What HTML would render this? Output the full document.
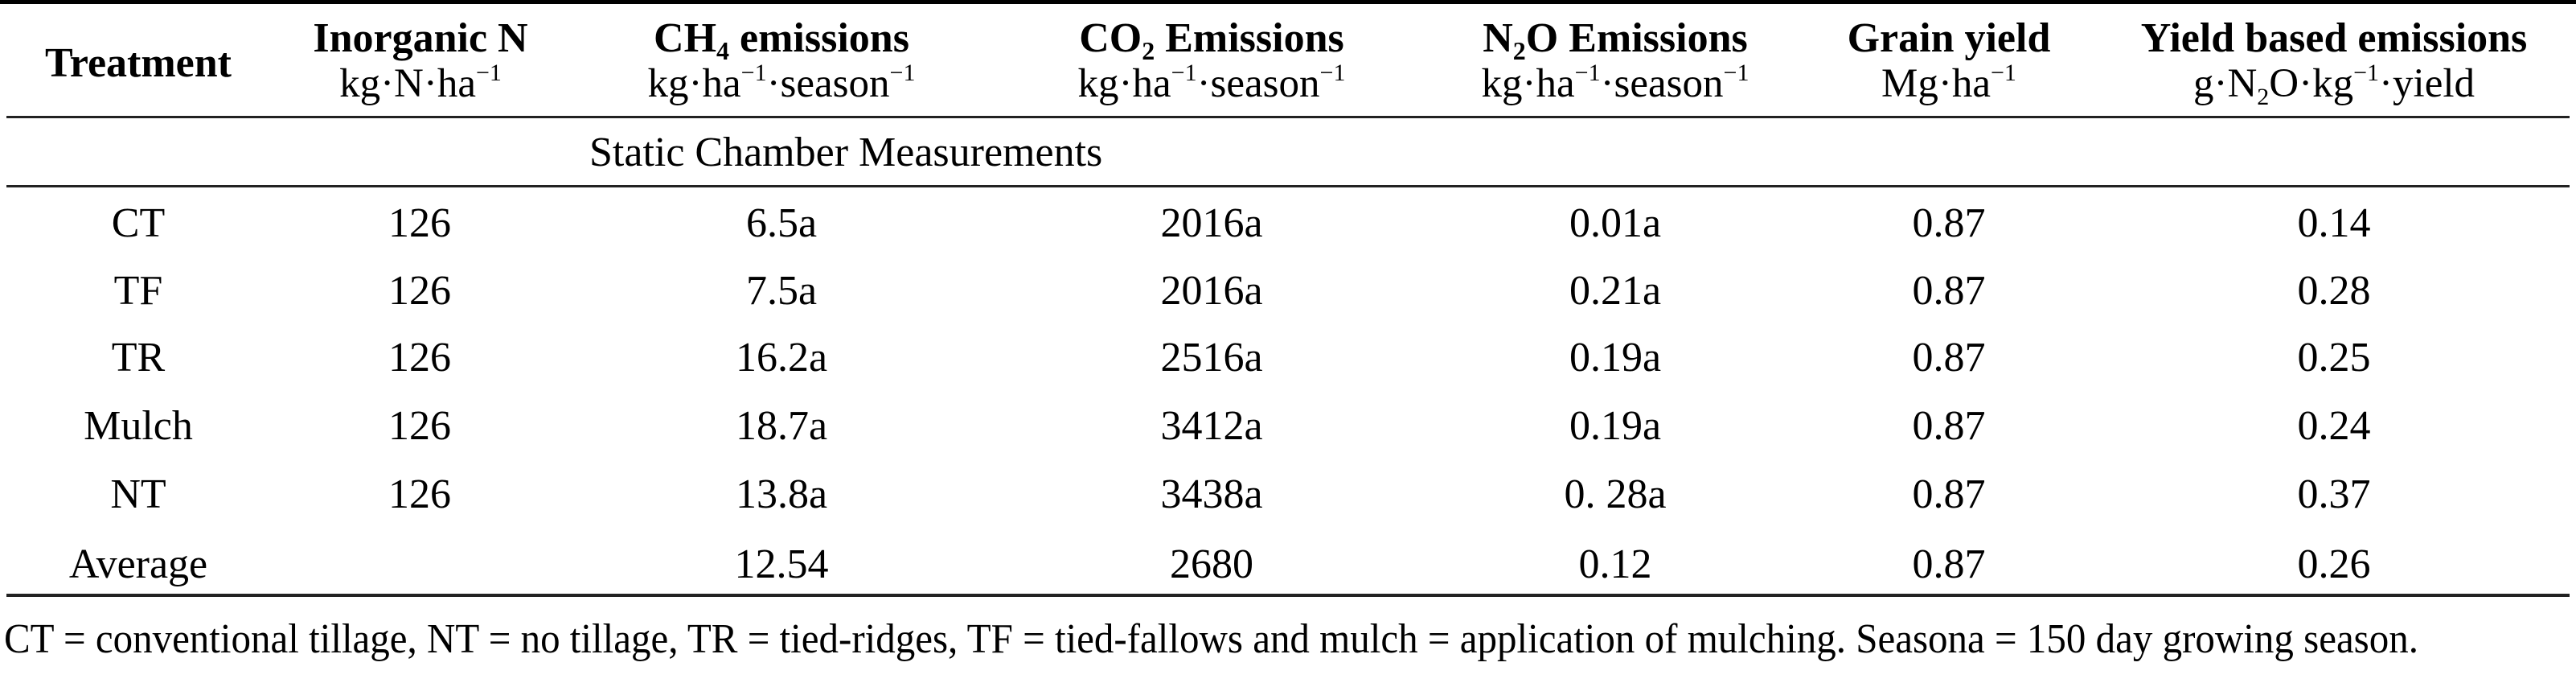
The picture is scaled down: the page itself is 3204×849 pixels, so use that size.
<!DOCTYPE html>
<html><head><meta charset="utf-8"><style>
html,body{margin:0;padding:0;background:#fff;width:3204px;height:849px;overflow:hidden}
text{font-family:"Liberation Serif","DejaVu Serif",serif;fill:#000}
.h{font-weight:bold;font-size:52px}
.u{font-size:51px}
.v{font-size:52px}
</style></head><body>
<svg width="3204" height="849" xmlns="http://www.w3.org/2000/svg">
<rect x="0" y="0" width="3204" height="5" fill="#000"/>
<rect x="8" y="144" width="3188" height="3" fill="#222"/>
<rect x="8" y="230" width="3188" height="3" fill="#222"/>
<rect x="8" y="738" width="3188" height="4" fill="#222"/>

<g text-anchor="middle">
<text class="h" x="172" y="95">Treatment</text>
<text class="h" x="523" y="64">Inorganic N</text>
<text class="u" x="523" y="120">kg·N·ha<tspan font-size="30" dy="-20">−1</tspan></text>
<text class="h" x="972" y="64">CH<tspan font-size="32" dy="10">4</tspan><tspan dy="-10"> emissions</tspan></text>
<text class="u" x="972" y="120">kg·ha<tspan font-size="30" dy="-20">−1</tspan><tspan dy="20">·season</tspan><tspan font-size="30" dy="-20">−1</tspan></text>
<text class="h" x="1507" y="64">CO<tspan font-size="32" dy="10">2</tspan><tspan dy="-10"> Emissions</tspan></text>
<text class="u" x="1507" y="120">kg·ha<tspan font-size="30" dy="-20">−1</tspan><tspan dy="20">·season</tspan><tspan font-size="30" dy="-20">−1</tspan></text>
<text class="h" x="2009" y="64">N<tspan font-size="32" dy="10">2</tspan><tspan dy="-10">O Emissions</tspan></text>
<text class="u" x="2009" y="120">kg·ha<tspan font-size="30" dy="-20">−1</tspan><tspan dy="20">·season</tspan><tspan font-size="30" dy="-20">−1</tspan></text>
<text class="h" x="2424" y="64">Grain yield</text>
<text class="u" x="2424" y="120">Mg·ha<tspan font-size="30" dy="-20">−1</tspan></text>
<text class="h" x="2903" y="64">Yield based emissions</text>
<text class="u" x="2903" y="120">g·N<tspan font-size="30" dy="10">2</tspan><tspan dy="-10">O·kg</tspan><tspan font-size="30" dy="-20">−1</tspan><tspan dy="20">·yield</tspan></text>
</g>

<text class="v" x="733" y="206">Static Chamber Measurements</text>

<g class="v" text-anchor="middle">
<text x="172" y="294">CT</text><text x="522" y="294">126</text><text x="972" y="294">6.5a</text><text x="1507" y="294">2016a</text><text x="2009" y="294">0.01a</text><text x="2424" y="294">0.87</text><text x="2903" y="294">0.14</text>
<text x="172" y="378">TF</text><text x="522" y="378">126</text><text x="972" y="378">7.5a</text><text x="1507" y="378">2016a</text><text x="2009" y="378">0.21a</text><text x="2424" y="378">0.87</text><text x="2903" y="378">0.28</text>
<text x="172" y="461">TR</text><text x="522" y="461">126</text><text x="972" y="461">16.2a</text><text x="1507" y="461">2516a</text><text x="2009" y="461">0.19a</text><text x="2424" y="461">0.87</text><text x="2903" y="461">0.25</text>
<text x="172" y="546">Mulch</text><text x="522" y="546">126</text><text x="972" y="546">18.7a</text><text x="1507" y="546">3412a</text><text x="2009" y="546">0.19a</text><text x="2424" y="546">0.87</text><text x="2903" y="546">0.24</text>
<text x="172" y="631">NT</text><text x="522" y="631">126</text><text x="972" y="631">13.8a</text><text x="1507" y="631">3438a</text><text x="2009" y="631">0. 28a</text><text x="2424" y="631">0.87</text><text x="2903" y="631">0.37</text>
<text x="172" y="718">Average</text><text x="972" y="718">12.54</text><text x="1507" y="718">2680</text><text x="2009" y="718">0.12</text><text x="2424" y="718">0.87</text><text x="2903" y="718">0.26</text>
</g>

<text class="v" x="5" y="811" textLength="3003" lengthAdjust="spacingAndGlyphs">CT = conventional tillage, NT = no tillage, TR = tied-ridges, TF = tied-fallows and mulch = application of mulching. Seasona = 150 day growing season.</text>
</svg>
</body></html>
